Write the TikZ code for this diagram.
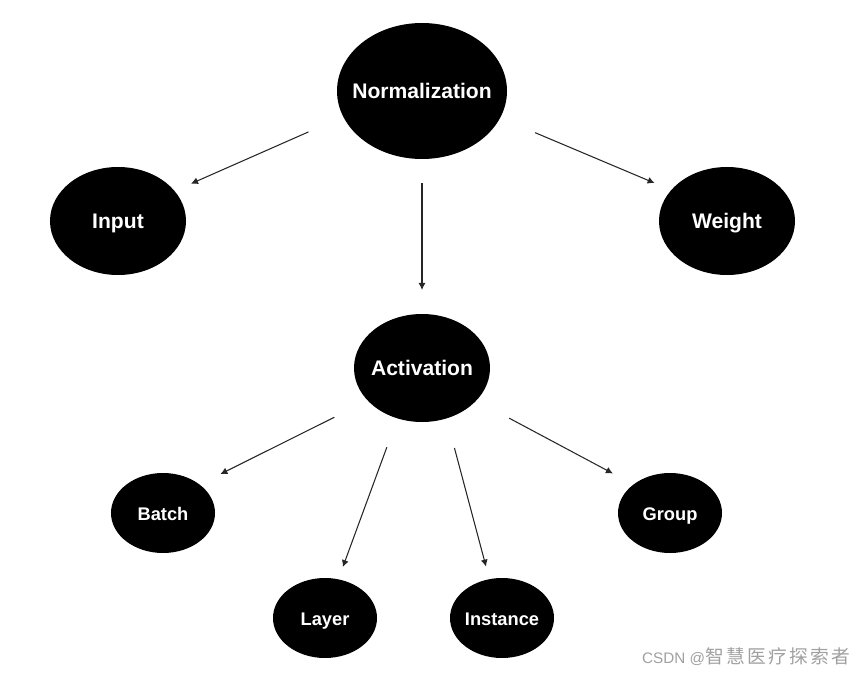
\documentclass[tikz,border=0pt]{standalone}
\usepackage{fontspec}
\setmainfont{Liberation Sans}
\newfontfamily\cjkfont[LetterSpace=12]{Noto Sans CJK SC}
\usetikzlibrary{arrows.meta,shapes.geometric}
\definecolor{StampGray}{HTML}{A0A0A0}
\tikzset{
  blob/.style={ellipse, fill=black, inner sep=0pt, outer sep=0pt},
  bigblob/.style={blob, minimum width=5.1cm, minimum height=4.08cm},
  midblob/.style={blob, minimum width=4.08cm, minimum height=3.24cm},
  smallblob/.style={blob, minimum width=3.12cm, minimum height=2.4cm},
  bigword/.style={text=white, inner sep=0pt, text height=0.72em, text depth=0pt, yshift=-3pt,
                  font=\fontsize{18}{20}\selectfont\bfseries},
  smallword/.style={text=white, inner sep=0pt, text height=0.72em, text depth=0pt, yshift=-3pt,
                    font=\fontsize{15.6}{18}\selectfont\bfseries},
  link/.style={-{Latex[length=6pt,width=6pt]}, line width=0.9pt, draw=black!85},
  stamp/.style={text=StampGray, inner sep=0pt, font=\fontsize{13}{15}\selectfont},
}

\begin{document}
\begin{tikzpicture}[x=0.03cm,y=-0.03cm]
    \useasboundingbox (0,0) rectangle (865,675);
    % top level
    \node[bigblob,label={[bigword]center:Normalization}] (norm) at (422,91) {};
    \node[midblob,label={[bigword]center:Input}] (input) at (118,221) {};
    \node[midblob,label={[bigword]center:Weight}] (weight) at (727,221) {};
    \node[midblob,label={[bigword]center:Activation}] (act) at (422,368) {};
    % kinds of activation normalization
    \node[smallblob,label={[smallword]center:Batch}] (batch) at (163,513) {};
    \node[smallblob,label={[smallword]center:Group}] (group) at (670,513) {};
    \node[smallblob,label={[smallword]center:Layer}] (layer) at (325,618) {};
    \node[smallblob,label={[smallword]center:Instance}] (inst) at (502,618) {};
    \draw[link,shorten <=1.14cm,shorten >=0.54cm] (norm.198.9) -- (input.28.4);
    \draw[link,shorten <=1.14cm,shorten >=0.54cm] (norm.341.1) -- (weight.151.6);
    \draw[link,shorten <=0.72cm,shorten >=0.72cm] (norm) -- (act);
    \draw[link,shorten <=1.12cm,shorten >=0.7cm] (act.211) -- (batch.38);
    \draw[link,shorten <=1.12cm,shorten >=0.7cm] (act.329) -- (group.142);
    \draw[link,shorten <=0.92cm,shorten >=0.39cm] (act.244) -- (layer.71.6);
    \draw[link,shorten <=0.92cm,shorten >=0.39cm] (act.296) -- (inst.108.4);
    \node[stamp,anchor=base east] (csdn) at (850,663) {CSDN @{\cjkfont\fontsize{16}{18}\selectfont 智慧医疗探索者}};
  \end{tikzpicture}
\end{document}
